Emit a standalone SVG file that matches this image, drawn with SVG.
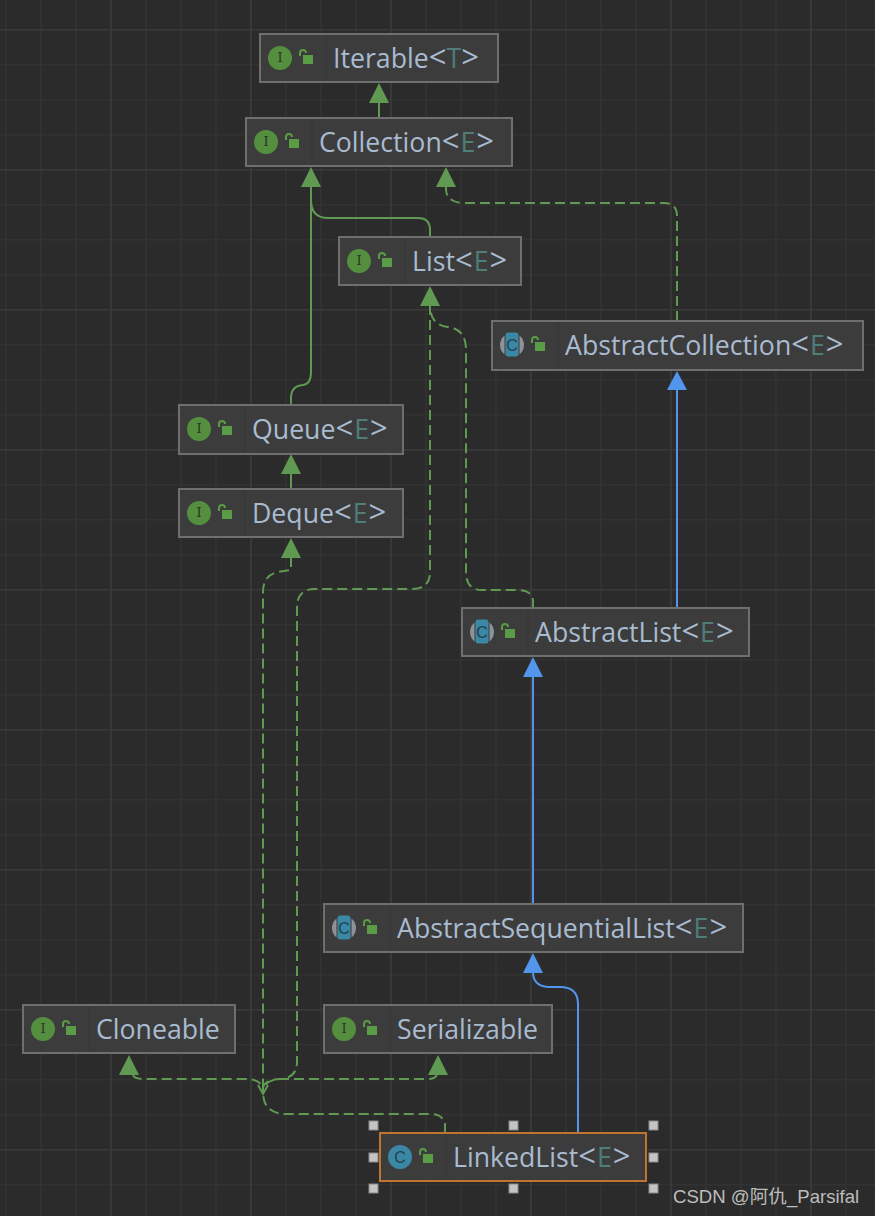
<svg xmlns="http://www.w3.org/2000/svg" width="875" height="1216" viewBox="0 0 875 1216">
<style>
.box{fill:#3c3c3c;stroke:#6f6f6f;stroke-width:2}
.sel{fill:#3c3c3c;stroke:#c0742f;stroke-width:2}
.sep{stroke:#363636;stroke-width:1}
.t{font-family:"Open Sans","Noto Sans",sans-serif;font-size:26.7px;fill:#a9bbd0}
.p{fill:#4f7d78}
.a{font-size:31px}
.ib{fill:#548f3f}
.il{font-family:"DejaVu Serif",serif;font-size:13px;fill:#2b3528;text-anchor:middle}
.ic{fill:#3a88a5}
.ih{fill:#3a88a5;stroke:#3c3c3c;stroke-width:1}
.cg{fill:#8d9298}
.cl{font-family:"Liberation Sans",sans-serif;font-size:16px;fill:#27404c;text-anchor:middle}
.lk{fill:#5a9b45}
.lks{fill:none;stroke:#5a9b45;stroke-width:2}
.g{fill:none;stroke:#609a52;stroke-width:2}
.gd{fill:none;stroke:#609a52;stroke-width:2;stroke-dasharray:10 5}
.b{fill:none;stroke:#5394ec;stroke-width:2}
.ga{fill:#609a52}
.ba{fill:#5394ec}
.h{fill:#c4c4c4;stroke:#8a8a8a;stroke-width:1}
</style>
<defs>
<pattern id="minor" width="35" height="35" patternUnits="userSpaceOnUse" x="5" y="29"><path d="M0.7 0V35M0 0.5H35" stroke="#323232" stroke-width="2" fill="none"/></pattern>
<pattern id="major" width="140" height="140" patternUnits="userSpaceOnUse" x="110" y="29"><path d="M0.7 0V140M0 0.5H140" stroke="#3a3a3a" stroke-width="2" fill="none"/></pattern>
<g id="lock"><rect x="4" y="4" width="10" height="9" class="lk"/><path d="M1 5V2a3 3 0 0 1 6 0" class="lks"/></g>
</defs>
<rect width="875" height="1216" fill="#2b2b2b"/>
<rect width="875" height="1216" fill="url(#minor)"/>
<rect width="875" height="1216" fill="url(#major)"/>

<g id="connectors">
<path class="g" d="M379 118V100"/><polygon class="ga" points="379,83 369,103 389,103"/>
<path class="g" d="M291 405V398Q291 386 303 385Q311 384 311 372V185"/>
<path class="g" d="M430 237V230Q430 218 418 218H328Q311 218 311 200V185"/><polygon class="ga" points="311,167 301,187 321,187"/>
<path class="gd" d="M677 321V216Q677 203 664 203H465Q447 203 446 190V186"/><polygon class="ga" points="446,167 436,187 456,187"/>
<path class="gd" d="M533 608V600Q531 590 518 590H482Q466 590 466 572V350Q466 329 448 327Q430 325 430 305"/>
<path class="gd" d="M430 305V572Q430 589 412 589H315Q297 589 297 608V1062Q297 1078 280 1079Q264 1080 263 1088"/><polygon class="ga" points="430,286 420,306 440,306"/>
<path class="g" d="M291 490V472"/><polygon class="ga" points="291,454 281,474 301,474"/>
<path class="gd" d="M291 557V570L278 572Q263 575 263 592V1090"/><polygon class="ga" points="291,538 281,558 301,558"/>
<path class="gd" d="M133 1075Q134 1079 145 1079H245Q262 1079 263 1090"/><polygon class="ga" points="129,1055 119,1075 139,1075"/>
<path class="gd" d="M437 1074Q436 1079 428 1079H280Q265 1080 263 1090"/><polygon class="ga" points="438,1055 428,1075 448,1075"/>
<path class="gd" d="M445 1133V1124Q443 1114 430 1114H285Q263 1113 263 1092"/>
<path class="g" d="M258 1085L263 1094L268 1085M263 1094V1080"/>
<path class="b" d="M533 904V675"/><polygon class="ba" points="533,657 523,677 543,677"/>
<path class="b" d="M677 608V388"/><polygon class="ba" points="677,371 667,390 687,390"/>
<path class="b" d="M578 1133V1004Q578 987 560 987H548Q533 986 533 972"/><polygon class="ba" points="533,953 523,973 543,973"/>
</g>

<g id="n-iterable"><rect class="box" x="260" y="34" width="238" height="48"/><line class="sep" x1="326" y1="35" x2="326" y2="81"/><circle class="ib" cx="280" cy="58" r="12"/><text class="il" x="280" y="62">I</text><use href="#lock" x="299" y="51"/><text class="t" x="333" y="68">Iterable<tspan class="a">&lt;</tspan><tspan class="p" dx="0">T</tspan><tspan class="a" dx="0">&gt;</tspan></text></g>
<g id="n-collection"><rect class="box" x="246" y="118" width="266" height="48"/><line class="sep" x1="312" y1="119" x2="312" y2="165"/><circle class="ib" cx="266" cy="142" r="12"/><text class="il" x="266" y="146">I</text><use href="#lock" x="285" y="135"/><text class="t" x="319" y="152">Collection<tspan class="a">&lt;</tspan><tspan class="p" dx="1">E</tspan><tspan class="a" dx="1">&gt;</tspan></text></g>
<g id="n-list"><rect class="box" x="339" y="237" width="182" height="48"/><line class="sep" x1="405" y1="238" x2="405" y2="284"/><circle class="ib" cx="359" cy="261" r="12"/><text class="il" x="359" y="265">I</text><use href="#lock" x="378" y="254"/><text class="t" x="412" y="271">List<tspan class="a">&lt;</tspan><tspan class="p" dx="1">E</tspan><tspan class="a" dx="1">&gt;</tspan></text></g>
<g id="n-abstractcollection"><rect class="box" x="492" y="321" width="371" height="49"/><line class="sep" x1="558" y1="322" x2="558" y2="369"/><circle class="cg" cx="512" cy="345" r="12"/><rect class="ih" x="505" y="332" width="14" height="25" rx="3"/><text class="cl" x="512" y="351">C</text><use href="#lock" x="531" y="338"/><text class="t" x="565" y="355">AbstractCollection<tspan class="a">&lt;</tspan><tspan class="p" dx="1">E</tspan><tspan class="a" dx="1">&gt;</tspan></text></g>
<g id="n-queue"><rect class="box" x="179" y="405" width="224" height="49"/><line class="sep" x1="245" y1="406" x2="245" y2="453"/><circle class="ib" cx="199" cy="429" r="12"/><text class="il" x="199" y="433">I</text><use href="#lock" x="218" y="422"/><text class="t" x="252" y="439">Queue<tspan class="a">&lt;</tspan><tspan class="p" dx="1">E</tspan><tspan class="a" dx="1">&gt;</tspan></text></g>
<g id="n-deque"><rect class="box" x="179" y="489" width="224" height="48"/><line class="sep" x1="245" y1="490" x2="245" y2="536"/><circle class="ib" cx="199" cy="513" r="12"/><text class="il" x="199" y="517">I</text><use href="#lock" x="218" y="506"/><text class="t" x="252" y="523">Deque<tspan class="a">&lt;</tspan><tspan class="p" dx="1">E</tspan><tspan class="a" dx="1">&gt;</tspan></text></g>
<g id="n-abstractlist"><rect class="box" x="462" y="608" width="287" height="48"/><line class="sep" x1="528" y1="609" x2="528" y2="655"/><circle class="cg" cx="482" cy="632" r="12"/><rect class="ih" x="475" y="619" width="14" height="25" rx="3"/><text class="cl" x="482" y="638">C</text><use href="#lock" x="501" y="625"/><text class="t" x="535" y="642">AbstractList<tspan class="a">&lt;</tspan><tspan class="p" dx="1">E</tspan><tspan class="a" dx="1">&gt;</tspan></text></g>
<g id="n-abstractsequentiallist"><rect class="box" x="324" y="904" width="419" height="48"/><line class="sep" x1="390" y1="905" x2="390" y2="951"/><circle class="cg" cx="344" cy="928" r="12"/><rect class="ih" x="337" y="915" width="14" height="25" rx="3"/><text class="cl" x="344" y="934">C</text><use href="#lock" x="363" y="921"/><text class="t" x="397" y="938">AbstractSequentialList<tspan class="a">&lt;</tspan><tspan class="p" dx="1">E</tspan><tspan class="a" dx="1">&gt;</tspan></text></g>
<g id="n-cloneable"><rect class="box" x="23" y="1005" width="212" height="48"/><line class="sep" x1="89" y1="1006" x2="89" y2="1052"/><circle class="ib" cx="43" cy="1029" r="12"/><text class="il" x="43" y="1033">I</text><use href="#lock" x="62" y="1022"/><text class="t" x="96" y="1039">Cloneable</text></g>
<g id="n-serializable"><rect class="box" x="324" y="1005" width="228" height="48"/><line class="sep" x1="390" y1="1006" x2="390" y2="1052"/><circle class="ib" cx="344" cy="1029" r="12"/><text class="il" x="344" y="1033">I</text><use href="#lock" x="363" y="1022"/><text class="t" x="397" y="1039">Serializable</text></g>
<g id="n-linkedlist"><rect class="sel" x="380" y="1133" width="266" height="48"/><line class="sep" x1="446" y1="1134" x2="446" y2="1180"/><circle class="ic" cx="400" cy="1157" r="12"/><text class="cl" x="400" y="1163">C</text><use href="#lock" x="419" y="1150"/><text class="t" x="453" y="1167">LinkedList<tspan class="a">&lt;</tspan><tspan class="p" dx="1">E</tspan><tspan class="a" dx="1">&gt;</tspan></text>
<rect class="h" x="369" y="1121" width="9" height="9"/><rect class="h" x="509" y="1121" width="9" height="9"/><rect class="h" x="649" y="1121" width="9" height="9"/><rect class="h" x="369" y="1153" width="9" height="9"/><rect class="h" x="649" y="1153" width="9" height="9"/><rect class="h" x="369" y="1184" width="9" height="9"/><rect class="h" x="509" y="1184" width="9" height="9"/><rect class="h" x="649" y="1184" width="9" height="9"/></g>
<text x="673" y="1203" font-family="'Liberation Sans','Noto Sans CJK SC',sans-serif" font-size="18.6" fill="#bdbdbd">CSDN @阿仇_Parsifal</text>
</svg>
